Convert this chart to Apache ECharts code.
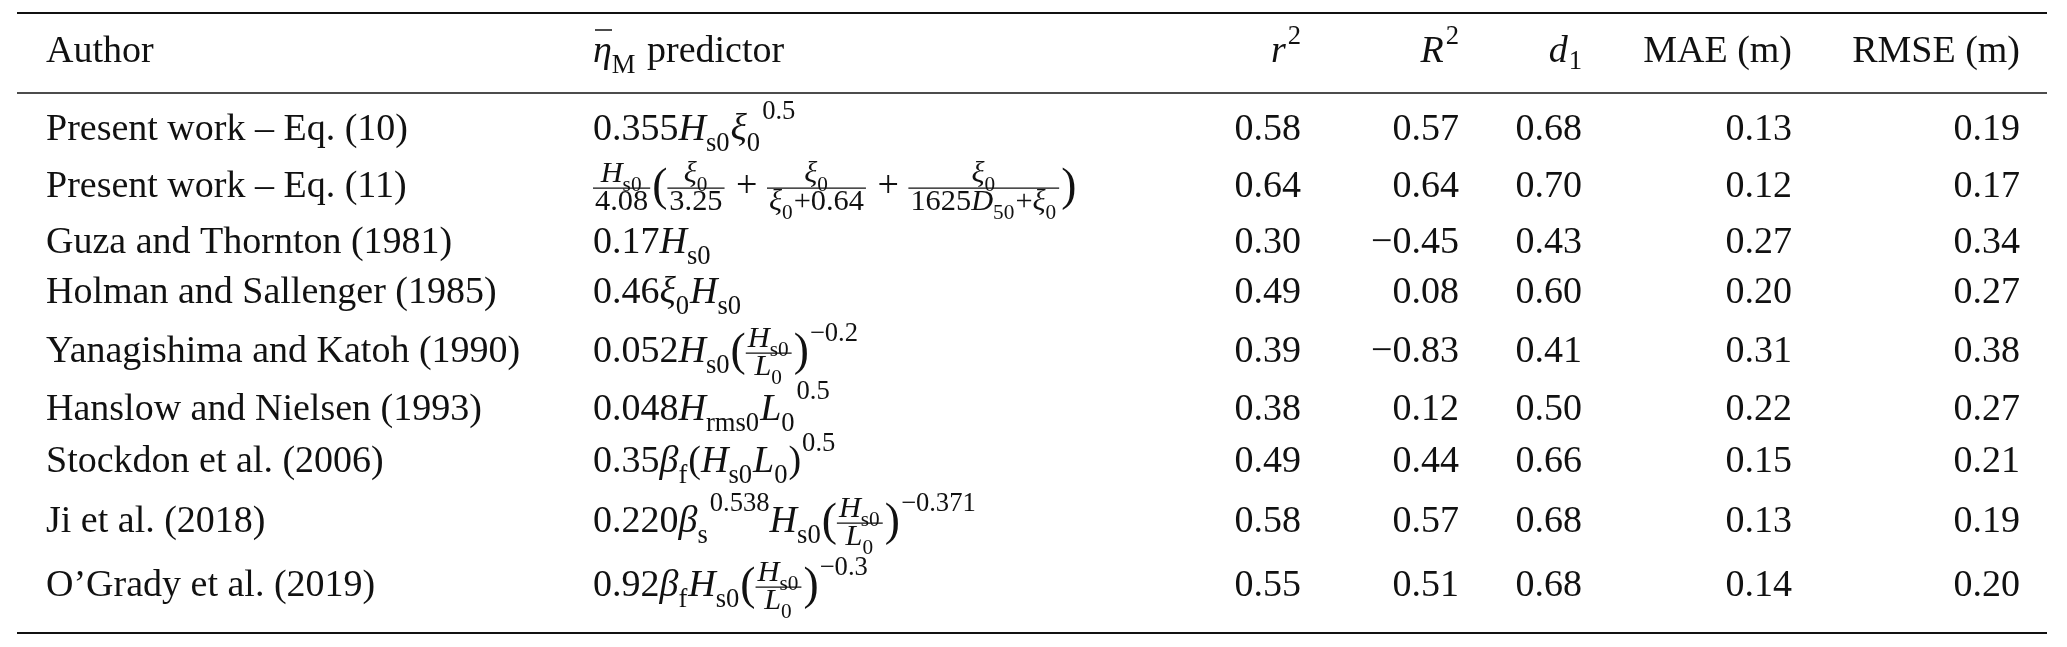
<!DOCTYPE html>
<html><head><meta charset="utf-8">
<script src="https://cdn.jsdelivr.net/npm/echarts@6/dist/echarts.min.js"></script>
<style>html,body{margin:0;padding:0;background:#fff}#c{width:2067px;height:647px}</style>
</head><body><div id="c"></div>
<script>
const headers = ['Author', 'predictor', 'r', 'R', 'd', 'MAE (m)', 'RMSE (m)'];
const authors = ['Present work – Eq. (10)', 'Present work – Eq. (11)', 'Guza and Thornton (1981)', 'Holman and Sallenger (1985)', 'Yanagishima and Katoh (1990)', 'Hanslow and Nielsen (1993)', 'Stockdon et al. (2006)', 'Ji et al. (2018)', 'O’Grady et al. (2019)'];
const r2 = ['0.58', '0.64', '0.30', '0.49', '0.39', '0.38', '0.49', '0.58', '0.55'];
const R2 = ['0.57', '0.64', '−0.45', '0.08', '−0.83', '0.12', '0.44', '0.57', '0.51'];
const d1 = ['0.68', '0.70', '0.43', '0.60', '0.41', '0.50', '0.66', '0.68', '0.68'];
const MAE = ['0.13', '0.12', '0.27', '0.20', '0.31', '0.22', '0.15', '0.13', '0.14'];
const RMSE = ['0.19', '0.17', '0.34', '0.27', '0.38', '0.27', '0.21', '0.19', '0.20'];
const Hs0 = [['i','H'],['_','s0']];
const HL = ['f', {n:Hs0, d:[['i','L'],['_','0']]}];
const predictors = [
  [['r','0.355'],...Hs0,['i','ξ'],['_','0'],['^','0.5']],
  [['f',{n:Hs0,d:[['r','4.08']]}],['(','('],['f',{n:[['i','ξ'],['_','0']],d:[['r','3.25']]}],['r',' + '],['f',{n:[['i','ξ'],['_','0']],d:[['i','ξ'],['_','0'],['r','+0.64']]}],['r',' + '],['f',{n:[['i','ξ'],['_','0']],d:[['r','1625'],['i','D'],['_','50'],['r','+'],['i','ξ'],['_','0']]}],[')',')']],
  [['r','0.17'],...Hs0],
  [['r','0.46'],['i','ξ'],['_','0'],...Hs0],
  [['r','0.052'],...Hs0,['(','('],HL,[')',')'],['^','−0.2']],
  [['r','0.048'],['i','H'],['_','rms0'],['i','L'],['_','0'],['^','0.5']],
  [['r','0.35'],['i','β'],['_','f'],['r','('],...Hs0,['i','L'],['_','0'],['r',')'],['^','0.5']],
  [['r','0.220'],['i','β'],['_','s'],['^','0.538'],...Hs0,['(','('],HL,[')',')'],['^','−0.371']],
  [['r','0.92'],['i','β'],['_','f'],...Hs0,['(','('],HL,[')',')'],['^','−0.3']]
];

const FONT = '"Liberation Serif", "DejaVu Serif", serif';
const FS = 38;
const cv = document.createElement('canvas').getContext('2d');
function fnt(sz, it){ return (it?'italic ':'') + sz + 'px ' + FONT; }
function mw(t, sz, it){ cv.font = fnt(sz,it); return cv.measureText(t).width; }
const els = [];
function txt(t, x, yMid, sz, it, align){
  els.push({type:'text', x:x, y:yMid, style:{text:t, font:fnt(sz,it), fill:'#111', align:align||'left', verticalAlign:'middle'}});
}
function render(tokens, x, base, sz, draw){
  let cx = x;
  for (const [k,c] of tokens){
    if (k==='r'||k==='i'){ const w=mw(c,sz,k==='i'); if(draw) txt(c,cx,base-0.33*sz,sz,k==='i'); cx+=w+(k==='i'?1:0); }
    else if (k==='_'){ const s=sz*0.7; const w=mw(c,s,false); if(draw) txt(c,cx-1,base+0.05*sz,s,false); cx+=w; }
    else if (k==='^'){ const s=sz*0.7; const w=mw(c,s,false); if(draw) txt(c,cx+1,base-0.8*sz,s,false); cx+=w+1; }
    else if (k==='('||k===')'){ const s=sz*1.2; const w=mw(c,s,false); if(draw) txt(c,cx,base-0.3*sz,s,false); cx+=w; }
    else if (k==='f'){
      const s=sz*0.8;
      const wn=render(c.n,0,0,s,false), wd=render(c.d,0,0,s,false);
      const W=Math.max(wn,wd)+4; const ly=base-0.3*sz;
      if(draw){
        render(c.n, cx+(W-wn)/2, ly-0.1*sz, s, true);
        render(c.d, cx+(W-wd)/2, ly+0.62*sz, s, true);
        els.push({type:'line', shape:{x1:cx,y1:ly,x2:cx+W,y2:ly}, style:{stroke:'#111', lineWidth:1.4}});
      }
      cx+=W+2;
    }
  }
  return cx-x;
}

const L = {x0:17, x1:2047, topY:13, headY:93, botY:633, headMid:52, rowMid:[130,187,243,293,352,410,462,522,586],
  author:46, pred:593, rR2:1301, rRR:1459, rd1:1582, rMAE:1792, rRMSE:2020};

[[L.topY,1.8],[L.headY,1.4],[L.botY,1.8]].forEach(([y,w])=>els.push({type:'line',shape:{x1:L.x0,y1:y,x2:L.x1,y2:y},style:{stroke:'#111',lineWidth:w}}));

txt(headers[0], L.author, L.headMid, FS, false);
render([['i','η'],['_','M']], L.pred, L.headMid+0.33*FS, FS, true);
els.push({type:'line',shape:{x1:L.pred+2,y1:L.headMid-22,x2:L.pred+19,y2:L.headMid-22},style:{stroke:'#111',lineWidth:1.5}});
txt(' '+headers[1], L.pred+mw('η',FS,true)+mw('M',FS*0.7,false)+2, L.headMid, FS, false);
txt('2', L.rR2, L.headMid-15, FS*0.7, false, 'right');
txt(headers[2], L.rR2-mw('2',FS*0.7)-2, L.headMid, FS, true, 'right');
txt('2', L.rRR, L.headMid-15, FS*0.7, false, 'right');
txt(headers[3], L.rRR-mw('2',FS*0.7)-2, L.headMid, FS, true, 'right');
txt('1', L.rd1, L.headMid+10, FS*0.7, false, 'right');
txt(headers[4], L.rd1-mw('1',FS*0.7)-1, L.headMid, FS, true, 'right');
txt(headers[5], L.rMAE, L.headMid, FS, false, 'right');
txt(headers[6], L.rRMSE, L.headMid, FS, false, 'right');

authors.forEach((a,i)=>{
  const y=L.rowMid[i];
  txt(a, L.author, y, FS, false);
  render(predictors[i], L.pred, y+0.33*FS, FS, true);
  txt(r2[i], L.rR2, y, FS, false, 'right');
  txt(R2[i], L.rRR, y, FS, false, 'right');
  txt(d1[i], L.rd1, y, FS, false, 'right');
  txt(MAE[i], L.rMAE, y, FS, false, 'right');
  txt(RMSE[i], L.rRMSE, y, FS, false, 'right');
});

const chart = echarts.init(document.getElementById('c'), null, {renderer:'canvas'});
chart.setOption({backgroundColor:'#fff', animation:false, graphic:{elements:els}});
</script></body></html>
